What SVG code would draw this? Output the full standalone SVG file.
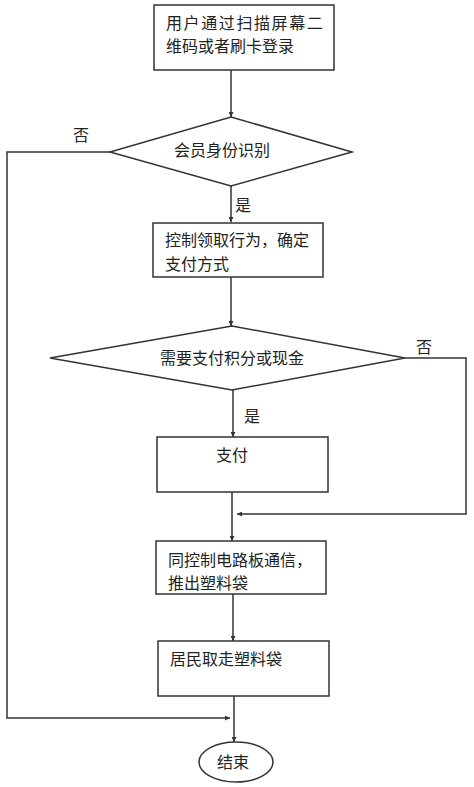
<svg xmlns="http://www.w3.org/2000/svg" width="474" height="787" viewBox="0 0 474 787">
<style>
.n{fill:#fff;stroke:#333;stroke-width:1.5}
.c{fill:none;stroke:#333;stroke-width:1.5}
text{font-family:"Noto Sans CJK SC","Noto Sans",sans-serif;font-size:16px;fill:#222}
.m{text-anchor:middle}
</style>
<defs>
<marker id="a" viewBox="0 0 8 8" refX="8" refY="4" markerWidth="5" markerHeight="5" orient="auto" markerUnits="userSpaceOnUse">
<path d="M0,0 L8,4 L0,8 z" fill="#333"/>
</marker>
</defs>
<rect width="474" height="787" fill="#fff"/>
<g id="connectors">
<path class="c" d="M231,70 V117" marker-end="url(#a)"/>
<path class="c" d="M231,186 V222" marker-end="url(#a)"/>
<path class="c" d="M231,277 V326" marker-end="url(#a)"/>
<path class="c" d="M233,390 V437" marker-end="url(#a)"/>
<path class="c" d="M232,492 V541" marker-end="url(#a)"/>
<path class="c" d="M405,358 H466 V514 H237" marker-end="url(#a)"/>
<path class="c" d="M233,594 V641" marker-end="url(#a)"/>
<path class="c" d="M234,696 V742" marker-end="url(#a)"/>
<path class="c" d="M110,152 H7 V718 H230" marker-end="url(#a)"/>
<text x="81" y="141" class="m">否</text>
<text x="243" y="211" class="m">是</text>
<text x="424" y="353" class="m">否</text>
<text x="252" y="422" class="m">是</text>
</g>
<g id="n1">
<rect class="n" x="154" y="5" width="180" height="65"/>
<text x="166" y="29" letter-spacing="1.6">用户通过扫描屏幕二</text>
<text x="166" y="52">维码或者刷卡登录</text>
</g>
<g id="n2">
<polygon class="n" points="231,117 352,152 231,186 110,152"/>
<text x="222" y="156" class="m">会员身份识别</text>
</g>
<g id="n3">
<rect class="n" x="153" y="223" width="170" height="54"/>
<text x="165" y="246">控制领取行为，确定</text>
<text x="165" y="270">支付方式</text>
</g>
<g id="n4">
<polygon class="n" points="232,326 405,358 232,390 50,358"/>
<text x="232" y="364" class="m">需要支付积分或现金</text>
</g>
<g id="n5">
<rect class="n" x="157" y="437" width="171" height="55"/>
<text x="232" y="461" class="m">支付</text>
</g>
<g id="n6">
<rect class="n" x="156" y="541" width="170" height="53"/>
<text x="168" y="566">同控制电路板通信，</text>
<text x="168" y="589">推出塑料袋</text>
</g>
<g id="n7">
<rect class="n" x="158" y="641" width="171" height="55"/>
<text x="170" y="665">居民取走塑料袋</text>
</g>
<g id="n8">
<ellipse class="n" cx="236" cy="762" rx="37" ry="20"/>
<text x="233" y="768" class="m">结束</text>
</g>
</svg>
